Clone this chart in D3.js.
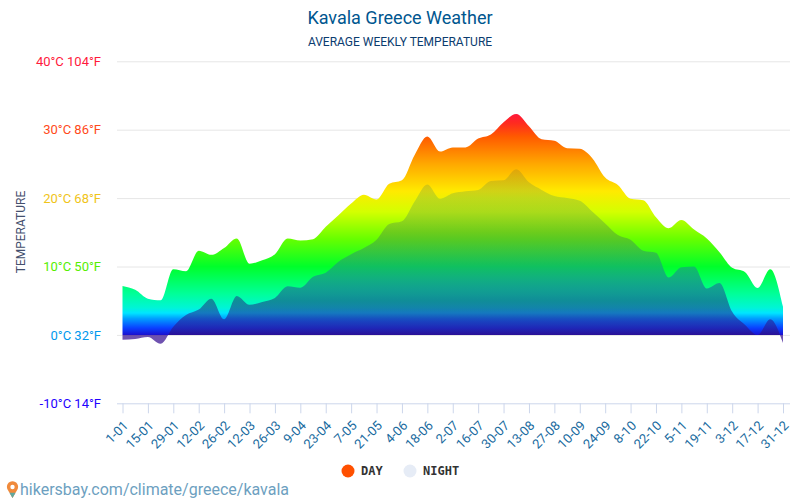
<!DOCTYPE html>
<html>
<head>
<meta charset="utf-8">
<title>Kavala Greece Weather</title>
<script src="https://d3js.org/d3.v7.min.js"></script>
<style>
  body { margin: 0; background: #fff; }
  svg { display: block; font-family: Roboto, sans-serif; }
</style>
</head>
<body>
<script>
var weekLabels = ["1-01","15-01","29-01","12-02","26-02","12-03","26-03","9-04","23-04","7-05","21-05","4-06","18-06","2-07","16-07","30-07","13-08","27-08","10-09","24-09","8-10","22-10","5-11","19-11","3-12","17-12","31-12"];
var dayTemps = [7.15,6.6,5.3,5.05,9.6,9.3,12.3,11.7,12.7,14.1,10.4,10.9,11.8,14.1,13.8,14,15.8,17.5,19.2,20.5,19.8,22.1,22.6,26.3,29,26.8,27.4,27.4,28.7,29.3,31.1,32.3,30.5,28.6,28.4,27.3,27.2,25.8,23,21.9,19.9,19.7,17.2,15.6,16.8,15.4,14.1,12.1,9.8,9.2,6.85,9.6,4.1];
var nightTemps = [-0.7,-0.6,-0.3,-1.3,1.2,2.9,3.7,5.3,2.3,5.7,4.4,4.8,5.4,7.1,6.9,8.5,9.1,10.7,11.8,12.7,13.9,16.2,16.6,19.5,22,19.9,20.7,21,21.2,22.5,22.6,24.2,22.3,21.2,20.3,20,19.6,18,16.3,14.6,13.9,12.3,12,8.4,9.9,10,6.8,7.6,3.4,1.5,0,2.3,-1.2];
var tempTicks = [-10,0,10,20,30,40];
var tickLabels = ["-10°C 14°F","0°C 32°F","10°C 50°F","20°C 68°F","30°C 86°F","40°C 104°F"];
var tickColors = ["#2200ff","#0099ee","#55ee00","#f0c419","#ff4a1a","#ff1a3c"];

var width = 800, height = 500;
var svg = d3.select("body").append("svg").attr("width", width).attr("height", height);

var x = d3.scalePoint().domain(d3.range(dayTemps.length)).range([122.5, 783]);
var y = d3.scaleLinear().domain([-10, 40]).range([403.3, 61.3]);

// gradients run on the temperature scale, so a colour always means the same degree
var defs = svg.append("defs");
function addGradient(id, stops) {
    var g = defs.append("linearGradient").attr("id", id)
        .attr("gradientUnits", "userSpaceOnUse")
        .attr("x1", 0).attr("x2", 0).attr("y1", y(40)).attr("y2", y(-10));
    stops.forEach(function(s) {
        g.append("stop").attr("offset", (40 - s[0]) / 50).attr("stop-color", s[1]).attr("stop-opacity", s[2] === undefined ? 1 : s[2]);
    });
}
addGradient("dayFill", [[33,"#ff0f4a"],[31,"#ff2a20"],[29,"#ff5a00"],[25,"#ffa800"],[21,"#ffea00"],[18,"#d4ff00"],[14,"#66ff00"],[10,"#00ff2a"],[6,"#00ff99"],[4,"#00f5d5"],[3.2,"#00e5ff"],[2.4,"#00a0ff"],[1,"#0a40ff"],[0,"#1a10d0"],[-10,"#1a10d0"]]);
addGradient("nightFill", [[25,"#806020",0.2],[20,"#007880",0.2],[15,"#201880",0.22],[10,"#4004ff",0.25],[5,"#24026f",0.44],[2,"#300080",0.5],[0,"#411040",0.4],[-0.01,"#31088e",0.7],[-10,"#31088e",0.7]]);

var grid = svg.append("g").attr("transform", "translate(117,0)")
    .call(d3.axisLeft(y).tickValues(tempTicks.slice(1)).tickSize(-673).tickFormat(""));
grid.select(".domain").remove();
grid.selectAll("line").attr("stroke", "#e6e6e6");

function area(values) {
    return d3.area().x(function(d, i) { return x(i); }).y0(y(0)).y1(function(d) { return y(d); })
        .curve(d3.curveMonotoneX)(values);
}
svg.append("path").attr("d", area(dayTemps)).attr("fill", "url(#dayFill)");
svg.append("path").attr("d", area(nightTemps)).attr("fill", "url(#nightFill)");

var yAxis = svg.append("g").attr("transform", "translate(101,0)")
    .call(d3.axisLeft(y).tickValues(tempTicks).tickSize(0).tickPadding(0).tickFormat(function(d, i) { return tickLabels[i]; }));
yAxis.select(".domain").remove();
yAxis.selectAll("text")
    .attr("font-family", "Roboto, sans-serif").attr("font-size", 13)
    .attr("fill", function(d, i) { return tickColors[i]; });

var xAxis = svg.append("g").attr("transform", "translate(0,403.3)")
    .call(d3.axisBottom(x)
        .tickValues(d3.range(0, dayTemps.length, 2))
        .tickSize(10)
        .tickSizeOuter(0)
        .tickFormat(function(i) { return weekLabels[i / 2]; }));
xAxis.select(".domain").attr("d", "M117,0.5H790").attr("stroke", "#ccd6eb");
xAxis.selectAll("line").attr("stroke", "#ccd6eb");
xAxis.selectAll("text")
    .attr("font-family", "Roboto, sans-serif").attr("font-size", 13).attr("fill", "#186a9e")
    .attr("text-anchor", "end").attr("dy", 0).attr("y", 0)
    .attr("transform", "translate(6,23) rotate(-45)");

svg.append("text").attr("x", 400).attr("y", 24).attr("text-anchor", "middle")
    .attr("font-size", 18).attr("fill", "#00568f").text("Kavala Greece Weather");
svg.append("text").attr("x", 400).attr("y", 46).attr("text-anchor", "middle")
    .attr("font-size", 12).attr("fill", "#0b3c6f").text("AVERAGE WEEKLY TEMPERATURE");
svg.append("text").attr("transform", "translate(25,232) rotate(-90)").attr("text-anchor", "middle")
    .attr("font-size", 12).attr("fill", "#44506e").text("TEMPERATURE");

var legend = svg.append("g").attr("font-family", "'DejaVu Sans Mono', monospace").attr("font-weight", "bold").attr("font-size", 12).attr("fill", "#333");
legend.append("circle").attr("cx", 348).attr("cy", 471).attr("r", 6.5).attr("fill", "#ff5000");
legend.append("text").attr("x", 361).attr("y", 475).text("DAY");
legend.append("circle").attr("cx", 410).attr("cy", 471).attr("r", 6.5).attr("fill", "#e6ecf6");
legend.append("text").attr("x", 423).attr("y", 475).text("NIGHT");

// map pin in front of the source link
svg.append("path").attr("d", "M12.5,498 L7.6,489.5 A5.6,5.6 0 1 1 17.4,489.5 Z").attr("fill", "#f08a3c");
svg.append("path").attr("d", "M12.5,498 L9.5,492.8 L15.5,492.8 Z").attr("fill", "#5fa8a0");
svg.append("circle").attr("cx", 12.5).attr("cy", 487).attr("r", 2.2).attr("fill", "#fff");
svg.append("text").attr("x", 20).attr("y", 495).attr("font-size", 16).attr("fill", "#6d9fbf").text("hikersbay.com/climate/greece/kavala");
</script>
</body>
</html>
